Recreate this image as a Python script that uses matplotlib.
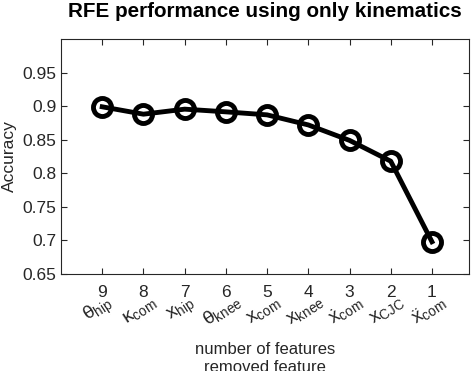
import matplotlib
matplotlib.use("Agg")
import matplotlib.pyplot as plt

plt.rcParams['font.family'] = ['Liberation Sans', 'DejaVu Sans']
plt.rcParams['mathtext.fontset'] = 'custom'
plt.rcParams['mathtext.rm'] = 'Liberation Sans'
plt.rcParams['mathtext.it'] = 'Liberation Sans'

# features left, from 9 down to 1
n_features = [9, 8, 7, 6, 5, 4, 3, 2, 1]
accuracy = [0.899, 0.888, 0.8955, 0.8915, 0.887, 0.872, 0.849, 0.818, 0.698]
removed = [r'$\theta_{\rm hip}$', r'$\kappa_{\rm com}$', r'$x_{\rm hip}$',
           r'$\theta_{\rm knee}$', r'$x_{\rm com}$', r'$x_{\rm knee}$',
           r'$\dot{x}_{\rm com}$', r'$x_{\rm CJC}$', r'$\ddot{x}_{\rm com}$']
yticks = [0.65, 0.7, 0.75, 0.8, 0.85, 0.9, 0.95]

fig = plt.figure(figsize=(4.74, 3.71), dpi=100)
ax = fig.add_axes([0.1287, 0.2615, 0.8608, 0.6334])

pos = list(range(1, len(n_features) + 1))
ax.plot(pos, accuracy, color='black', lw=3.5, marker='o', ms=13,
        mfc='none', mec='black', mew=3.5)

ax.set_xlim(0, 9.9)
ax.set_ylim(0.65, 1.0)
ax.set_xticks(pos)
ax.set_xticklabels([str(n) for n in n_features])
ax.set_yticks(yticks)
ax.set_yticklabels(['0.65', '0.7', '0.75', '0.8', '0.85', '0.9', '0.95'])
ax.tick_params(direction='in', top=True, right=True, labelsize=12.5,
               colors='#262626', length=4, width=0.8)
ax.tick_params(axis='x', pad=8)
for sp in ax.spines.values():
    sp.set_color('#262626')
    sp.set_linewidth(0.8)

for p, lab in zip(pos, removed):
    ax.text(p - 0.08, -0.155, lab, transform=ax.get_xaxis_transform(), rotation=33,
            ha='center', va='center', fontsize=14, color='#262626',
            rotation_mode='anchor')

ax.set_xlabel('number of features\nremoved feature', fontsize=12,
              color='#262626', labelpad=30, linespacing=1.3)
ax.set_ylabel('Accuracy', fontsize=12.5, color='#262626', labelpad=4)
ax.set_title('RFE performance using only kinematics', fontsize=14.9,
             fontweight='bold', pad=16)

fig.savefig('out.png', dpi=100)
